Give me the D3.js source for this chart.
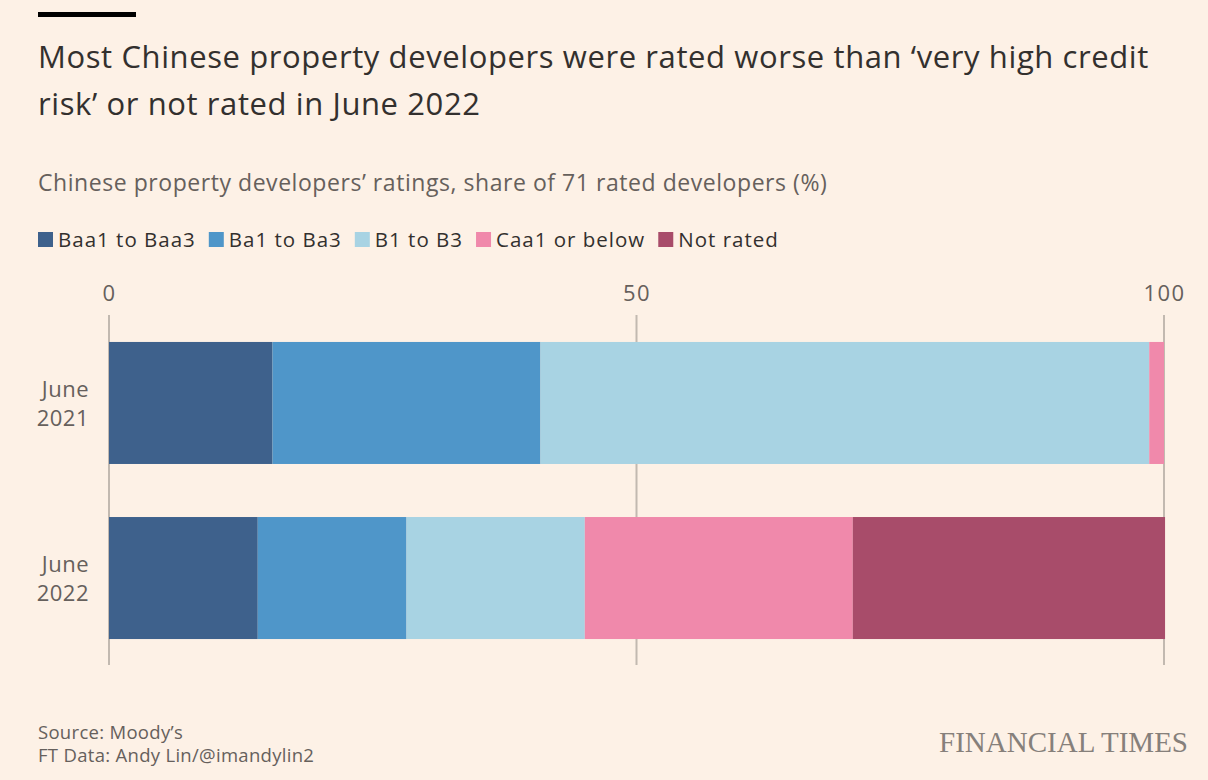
<!DOCTYPE html>
<html>
<head>
<meta charset="utf-8">
<script src="https://cdn.jsdelivr.net/npm/d3@7"></script>
<style>
  body { margin: 0; background: #fdf1e6; }
  svg { display: block; }
</style>
</head>
<body>
<div id="chart"></div>
<script>
const periods = ["June 2021", "June 2022"]
const categories = ["Baa1 to Baa3", "Ba1 to Ba3", "B1 to B3", "Caa1 or below", "Not rated"]
// share of 71 rated developers, %
const june2021 = [15.5, 25.4, 57.7, 1.4, 0]
const june2022 = [14.1, 14.1, 16.9, 25.4, 29.6]
const xTicks = [0, 50, 100]
const colors = ["#3e618c", "#4f96c9", "#a8d3e3", "#f089ab", "#a84c6a"]

const width = 1208, height = 780
const margin = { left: 109, right: 44 }
const font = "'Open Sans', sans-serif"

const svg = d3.select("#chart").append("svg")
  .attr("width", width).attr("height", height)

svg.append("rect").attr("width", width).attr("height", height).attr("fill", "#fdf1e6")
svg.append("rect").attr("x", 38).attr("y", 12).attr("width", 98).attr("height", 5).attr("fill", "#000")

const title = svg.append("text")
  .attr("x", 38).attr("y", 68)
  .attr("font-family", font).attr("font-size", 31).attr("letter-spacing", 0.6).attr("fill", "#33302e")
title.append("tspan").text("Most Chinese property developers were rated worse than ‘very high credit")
title.append("tspan").attr("x", 38).attr("dy", 47).text("risk’ or not rated in June 2022")

svg.append("text")
  .attr("x", 38).attr("y", 191)
  .attr("font-family", font).attr("font-size", 23).attr("letter-spacing", 0.55).attr("fill", "#66605c")
  .text("Chinese property developers’ ratings, share of 71 rated developers (%)")

// legend
let lx = 38
categories.forEach((c, i) => {
  const g = svg.append("g").attr("transform", `translate(${lx},0)`)
  g.append("rect").attr("x", 0).attr("y", 232).attr("width", 15).attr("height", 15).attr("fill", colors[i])
  const t = g.append("text").attr("x", 20).attr("y", 247)
    .attr("font-family", font).attr("font-size", 20.5).attr("letter-spacing", 1).attr("fill", "#33302e").text(c)
  lx += 20 + t.node().getComputedTextLength() + 13
})

const x = d3.scaleLinear().domain([0, 100]).range([margin.left, width - margin.right])
const y = d3.scaleBand().domain(periods).range([315, 666]).paddingInner(0.303).paddingOuter(0.154)

// gridlines
svg.append("g").selectAll("line").data(xTicks).join("line")
  .attr("x1", d => x(d)).attr("x2", d => x(d))
  .attr("y1", 315).attr("y2", 665)
  .attr("stroke", "#c2b9b0").attr("stroke-width", 2)

const xAxis = svg.append("g").attr("transform", "translate(0,301)")
  .call(d3.axisTop(x).tickValues(xTicks).tickSize(0).tickPadding(0))
xAxis.select(".domain").remove()
xAxis.selectAll("text")
  .attr("font-family", font).attr("font-size", 22).attr("letter-spacing", 1.5).attr("fill", "#66605c")
  .attr("dy", 0)

const rows = [june2021, june2022]
const stacked = rows.map((vals, r) => {
  let acc = 0
  return vals.map((v, i) => {
    const d = { period: periods[r], cat: i, x0: acc, x1: acc + v }
    acc += v
    return d
  })
}).flat()

svg.append("g").selectAll("rect").data(stacked.filter(d => d.x1 > d.x0)).join("rect")
  .attr("x", d => x(d.x0))
  .attr("width", d => x(d.x1) - x(d.x0))
  .attr("y", d => y(d.period))
  .attr("height", y.bandwidth())
  .attr("fill", d => colors[d.cat])

// y labels
periods.forEach(p => {
  const [m, yr] = p.split(" ")
  const t = svg.append("text")
    .attr("x", 89).attr("y", y(p) + y.bandwidth() / 2 - 6)
    .attr("text-anchor", "end")
    .attr("font-family", font).attr("font-size", 22).attr("letter-spacing", 0.5).attr("fill", "#66605c")
  t.append("tspan").text(m)
  t.append("tspan").attr("x", 89).attr("dy", 29).text(yr)
})

// footer
svg.append("text").attr("x", 38).attr("y", 739)
  .attr("font-family", font).attr("font-size", 18.5).attr("letter-spacing", 0.3).attr("fill", "#66605c")
  .text("Source: Moody’s")
svg.append("text").attr("x", 38).attr("y", 762)
  .attr("font-family", font).attr("font-size", 18.5).attr("letter-spacing", 0.3).attr("fill", "#66605c")
  .text("FT Data: Andy Lin/@imandylin2")
svg.append("text").attr("x", 1188).attr("y", 752)
  .attr("text-anchor", "end")
  .attr("font-family", "'Liberation Serif', serif").attr("font-size", 29).attr("fill", "#86807b")
  .text("FINANCIAL TIMES")
</script>
</body>
</html>
